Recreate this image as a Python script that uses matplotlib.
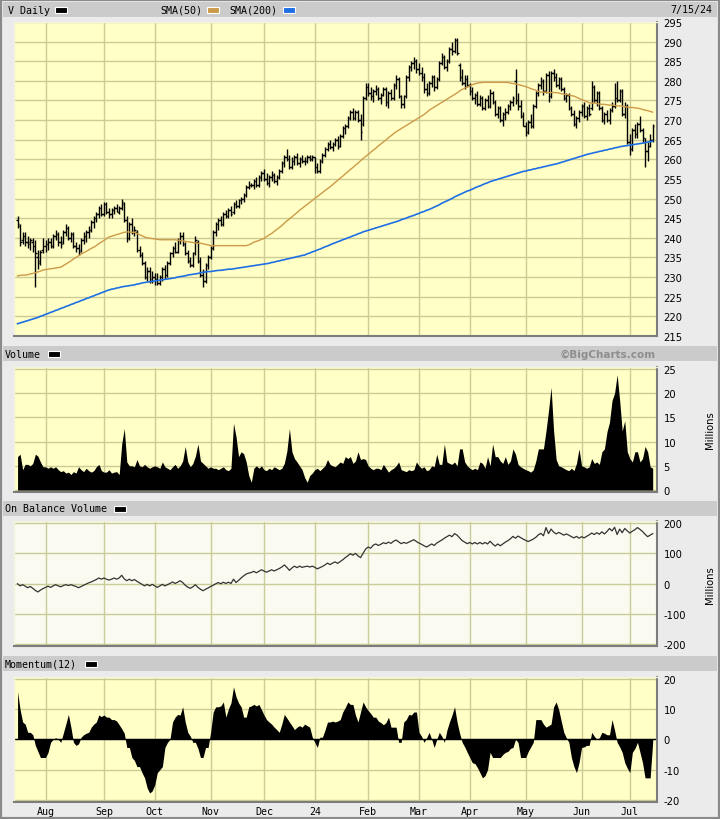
import numpy as np
import pandas as pd
import matplotlib
matplotlib.use('Agg')
import matplotlib.pyplot as plt
from matplotlib.collections import LineCollection
from matplotlib.patches import Rectangle

plt.rcParams['axes.unicode_minus'] = False

# trading calendar 7/17/23 .. 7/15/24
holidays = ['2023-09-04', '2023-11-23', '2023-12-25', '2024-01-01', '2024-01-15',
            '2024-02-19', '2024-03-29', '2024-05-27', '2024-06-19', '2024-07-04']
dates = pd.bdate_range('2023-07-17', '2024-07-15', freq='C', holidays=holidays)

# daily OHLC, one row per month
opens = [
    244.5, 243.0, 239.5, 240.5, 239.0, 239.0, 239.0, 238.0, 235.0, 234.0, 237.0,
    238.0, 238.5, 239.0, 238.0, 240.5, 241.0, 239.0, 239.0, 241.5, 242.5, 240.0, 241.0, 238.0, 237.5, 237.0, 239.5, 240.5, 241.5, 242.0, 244.0, 245.0, 246.0, 247.5,
    246.0, 248.5, 246.5, 246.0, 247.0, 247.5, 246.5, 247.5, 248.5, 244.5, 240.0, 243.5, 241.5, 241.5, 237.0, 235.5, 233.5, 230.0, 231.5, 229.5,
    230.0, 229.5, 228.5, 230.0, 232.0, 230.5, 233.5, 236.0, 237.5, 236.5, 239.5, 240.5, 238.5, 236.0, 234.0, 233.0, 236.0, 239.0, 234.0, 230.5, 229.0, 233.0,
    235.0, 237.5, 241.5, 243.5, 244.5, 243.5, 246.0, 245.5, 247.0, 246.5, 248.5, 248.0, 249.5, 250.0, 251.0, 253.0, 253.5, 253.5, 254.5, 253.5, 255.5,
    256.5, 255.0, 254.0, 255.5, 256.0, 254.5, 255.5, 257.0, 259.0, 260.5, 260.0, 258.0, 259.5, 260.5, 259.0, 260.0, 259.5, 259.5, 260.5, 260.0,
    260.5, 258.0, 257.0, 259.5, 261.0, 262.5, 264.0, 263.0, 264.0, 265.0, 263.5, 266.0, 268.0, 268.5, 270.5, 272.0, 270.5, 272.0, 270.0, 269.0, 275.5,
    278.5, 277.0, 276.0, 277.5, 278.0, 275.5, 276.5, 278.0, 274.5, 277.0, 275.5, 279.0, 280.5, 276.0, 274.0, 276.0, 281.0, 283.5, 284.5, 285.0,
    283.0, 282.0, 281.0, 278.0, 277.0, 279.5, 281.0, 278.5, 280.5, 284.5, 286.0, 283.5, 285.0, 288.0, 287.5, 290.5, 284.0, 281.0, 279.5, 280.5,
    279.0, 277.5, 275.5, 276.5, 274.0, 275.5, 273.0, 275.0, 273.5, 277.0, 274.5, 271.5, 273.0, 270.0, 271.5, 272.0, 273.5, 274.5, 280.0, 275.0, 273.5, 271.0,
    268.5, 267.0, 269.5, 268.5, 273.5, 277.0, 279.0, 280.0, 277.5, 281.5, 276.0, 282.0, 281.0, 279.0, 280.5, 278.0, 275.5, 276.5, 273.0, 271.5, 269.0, 270.5,
    272.0, 273.5, 271.0, 273.0, 273.0, 278.5, 275.0, 277.0, 273.0, 270.0, 271.5, 270.0, 272.5, 273.5, 275.5, 275.0, 277.5, 271.5, 273.5,
    264.5, 262.5, 267.5, 266.5, 269.0, 267.5, 265.5, 262.0, 263.5, 265.0,
]
highs = [
    245.5, 243.5, 241.5, 241.5, 240.5, 240.0, 240.0, 239.5, 237.0, 237.0, 240.0,
    239.5, 240.0, 240.0, 241.0, 242.0, 241.5, 240.5, 242.0, 243.5, 243.0, 241.5, 241.5, 239.0, 238.5, 240.0, 241.5, 242.0, 243.0, 244.5, 245.5, 246.5, 248.0, 248.5,
    249.0, 249.0, 247.5, 247.5, 248.0, 248.5, 248.0, 250.0, 249.0, 245.5, 244.0, 245.0, 243.0, 242.0, 238.0, 236.5, 234.0, 232.5, 232.5, 231.5,
    231.0, 231.0, 230.5, 232.5, 233.0, 234.0, 236.5, 238.0, 239.0, 240.0, 241.5, 241.5, 239.0, 237.0, 235.0, 236.5, 240.5, 239.5, 235.0, 232.0, 233.5, 235.5,
    238.0, 242.0, 244.0, 245.0, 245.5, 246.5, 247.0, 247.5, 248.0, 249.0, 249.5, 250.0, 250.5, 251.5, 253.5, 254.5, 254.0, 255.0, 255.5, 256.0, 257.0,
    257.5, 256.5, 256.0, 257.0, 256.5, 256.0, 257.5, 259.5, 261.0, 262.5, 261.0, 260.5, 261.0, 261.5, 260.5, 261.0, 260.5, 261.0, 261.0, 261.0,
    260.5, 259.0, 260.0, 261.5, 263.0, 264.5, 265.0, 264.5, 265.5, 266.0, 266.5, 268.5, 269.0, 271.0, 272.5, 273.0, 272.5, 272.5, 271.5, 276.0, 279.5,
    279.5, 278.5, 278.0, 279.0, 278.5, 277.0, 278.5, 278.5, 277.5, 278.0, 279.5, 281.5, 281.0, 276.5, 276.5, 281.5, 284.0, 285.0, 286.0, 285.5,
    284.5, 283.5, 282.0, 279.5, 280.0, 281.5, 281.5, 281.0, 285.0, 287.0, 286.5, 285.5, 288.5, 290.0, 291.0, 291.0, 284.5, 283.0, 281.5, 281.5,
    279.5, 278.5, 277.0, 277.5, 276.5, 276.0, 275.5, 276.5, 278.0, 277.5, 275.0, 273.5, 273.5, 272.0, 273.0, 274.0, 275.0, 276.0, 283.0, 277.0, 275.0, 272.0,
    269.5, 270.0, 271.5, 274.0, 277.5, 279.5, 281.0, 280.5, 282.0, 282.5, 282.5, 283.0, 282.0, 281.0, 281.0, 278.5, 277.0, 277.0, 273.5, 272.5, 271.0, 272.5,
    274.0, 274.5, 273.5, 274.0, 280.0, 279.0, 277.5, 277.5, 273.5, 272.0, 272.5, 273.0, 274.5, 279.5, 280.0, 278.0, 278.0, 274.5, 274.0,
    266.5, 268.0, 269.0, 269.5, 271.0, 268.0, 265.5, 264.5, 266.5, 269.0,
]
lows = [
    242.5, 238.0, 238.5, 238.0, 237.5, 237.0, 236.5, 227.5, 232.0, 233.0, 236.0,
    236.5, 237.0, 237.5, 237.5, 239.5, 238.0, 237.5, 238.5, 240.5, 239.5, 239.0, 237.5, 236.5, 235.5, 236.5, 238.5, 239.0, 240.0, 241.5, 242.5, 244.0, 245.0, 245.5,
    245.5, 246.0, 245.0, 245.0, 246.0, 246.5, 246.0, 247.0, 244.0, 239.0, 239.5, 241.0, 240.5, 236.5, 235.0, 233.0, 229.5, 229.0, 228.5, 228.5,
    228.0, 228.0, 228.0, 229.0, 229.5, 230.0, 233.0, 235.0, 236.0, 236.0, 238.5, 238.0, 235.5, 233.5, 232.5, 232.5, 235.5, 233.5, 230.0, 227.5, 228.5, 232.0,
    234.5, 237.0, 240.5, 242.0, 243.0, 243.0, 245.0, 245.0, 245.5, 246.0, 247.5, 247.5, 248.5, 249.0, 250.5, 252.5, 253.0, 252.5, 253.0, 253.0, 254.5,
    254.5, 253.5, 253.0, 254.5, 254.0, 253.5, 255.0, 256.5, 258.0, 259.5, 257.5, 257.5, 258.5, 258.5, 258.0, 259.0, 258.5, 259.0, 259.5, 259.5,
    256.5, 256.5, 256.5, 259.0, 260.5, 262.0, 262.5, 262.0, 263.5, 262.5, 263.0, 265.5, 266.5, 268.0, 270.0, 270.0, 270.0, 269.5, 265.0, 268.5, 275.0,
    276.0, 275.0, 274.5, 276.5, 275.0, 274.0, 276.0, 273.5, 273.0, 275.0, 275.0, 278.0, 275.5, 273.0, 273.0, 275.5, 280.0, 282.5, 283.0, 282.0,
    281.5, 280.0, 277.0, 276.0, 276.5, 278.5, 277.5, 278.0, 280.0, 284.0, 283.0, 282.5, 284.5, 286.5, 287.0, 286.5, 280.0, 279.0, 278.0, 278.5,
    276.5, 275.0, 274.0, 273.5, 273.5, 272.5, 272.5, 273.0, 273.0, 274.0, 271.0, 270.5, 269.5, 268.5, 270.0, 271.5, 272.5, 273.5, 274.0, 272.5, 270.5, 268.5,
    266.0, 266.5, 268.0, 268.0, 273.0, 276.0, 278.0, 276.5, 277.0, 274.5, 275.5, 280.0, 278.5, 278.0, 277.5, 275.0, 274.5, 272.5, 271.0, 268.5, 268.0, 269.5,
    271.0, 270.5, 270.0, 271.0, 272.5, 274.5, 273.5, 272.5, 269.5, 269.0, 269.5, 269.0, 272.0, 273.0, 274.5, 274.5, 271.0, 270.5, 264.0,
    261.0, 262.0, 265.5, 265.5, 267.0, 264.5, 258.0, 259.5, 263.0, 264.5,
]
closes = [
    243.5, 239.0, 240.5, 239.0, 238.5, 239.5, 238.0, 236.0, 233.5, 236.5, 238.0,
    238.5, 239.0, 238.0, 240.5, 241.0, 239.0, 238.5, 241.5, 242.5, 240.0, 241.0, 238.0, 237.5, 236.5, 239.5, 240.5, 241.5, 242.0, 244.0, 245.0, 246.0, 247.5, 246.0,
    248.5, 246.5, 246.0, 247.0, 247.5, 246.5, 247.5, 249.0, 244.5, 240.0, 243.5, 241.5, 242.0, 237.0, 235.5, 233.5, 230.0, 231.5, 229.0, 230.0,
    229.5, 228.5, 230.0, 232.0, 230.5, 233.5, 236.0, 237.5, 236.5, 239.5, 240.5, 238.5, 236.0, 234.0, 233.0, 236.0, 239.5, 234.0, 230.5, 229.0, 233.0, 235.0,
    237.5, 241.5, 243.5, 244.5, 243.5, 246.0, 245.5, 247.0, 246.0, 248.5, 248.0, 249.5, 250.0, 251.0, 253.0, 253.5, 253.5, 254.5, 253.5, 255.5, 256.5,
    255.0, 254.0, 255.5, 256.0, 254.5, 255.5, 257.0, 259.0, 260.5, 260.0, 258.0, 259.5, 260.5, 259.0, 260.0, 259.5, 259.5, 260.5, 260.0, 260.5,
    258.0, 257.0, 259.5, 261.0, 262.5, 264.0, 263.0, 264.0, 265.0, 263.5, 266.0, 268.0, 268.5, 270.5, 272.0, 270.5, 272.0, 270.0, 267.0, 275.5, 278.5,
    277.0, 276.0, 277.5, 278.0, 275.5, 276.5, 278.0, 274.5, 277.0, 275.5, 279.0, 280.5, 276.0, 274.0, 276.0, 281.0, 283.5, 284.5, 285.0, 283.0,
    282.0, 281.0, 278.0, 277.0, 279.5, 281.0, 278.5, 280.5, 284.5, 286.0, 283.5, 285.0, 288.0, 287.5, 290.5, 287.0, 281.0, 279.5, 280.5, 279.0,
    277.5, 275.5, 276.5, 274.0, 275.5, 273.0, 275.0, 273.5, 277.0, 274.5, 271.5, 273.0, 270.0, 271.5, 272.0, 273.5, 274.5, 275.5, 275.0, 273.5, 271.0, 268.5,
    267.0, 269.5, 268.5, 273.5, 277.0, 279.0, 280.0, 277.5, 281.5, 276.0, 282.0, 281.0, 279.0, 280.5, 278.0, 275.5, 276.5, 273.0, 271.5, 269.0, 270.5, 272.0,
    273.5, 271.0, 273.0, 271.5, 278.5, 275.0, 277.0, 273.0, 270.0, 271.5, 270.0, 272.5, 273.5, 275.5, 275.0, 277.5, 271.5, 273.5, 264.5,
    262.5, 267.5, 266.5, 269.0, 267.5, 265.5, 262.0, 263.5, 265.0, 268.5,
]

sma50 = [
    230.3, 230.4, 230.5, 230.5, 230.6, 230.8, 230.9, 231.1, 231.3, 231.5, 231.8,
    231.9, 232.0, 232.1, 232.2, 232.3, 232.4, 232.5, 232.9, 233.3, 233.7, 234.1, 234.6, 235.0,
    235.4, 235.8, 236.2, 236.5, 236.9, 237.3, 237.6, 238.0, 238.5, 238.9, 239.3, 239.8, 240.2,
    240.4, 240.6, 240.8, 241.0, 241.2, 241.4, 241.5, 241.5, 241.4, 241.4, 241.1, 240.8, 240.5, 240.2,
    240.0, 239.9, 239.8, 239.7, 239.6, 239.5, 239.5, 239.5, 239.5, 239.5, 239.5, 239.5,
    239.4, 239.3, 239.2, 239.1, 239.0, 238.9, 238.8, 238.7, 238.6, 238.6, 238.5, 238.3, 238.2, 238.0,
    238.0, 238.0, 238.0, 238.0, 238.0, 238.0, 238.0, 238.0, 238.0, 238.0, 238.0, 238.0, 238.0, 238.0,
    238.2, 238.5, 238.9, 239.1, 239.3, 239.6, 239.8,
    240.3, 240.7, 241.1, 241.6, 242.1, 242.6, 243.1, 243.7, 244.3,
    244.8, 245.3, 245.9, 246.4, 247.0, 247.5, 248.0, 248.5, 249.0, 249.5, 250.0, 250.5, 251.0,
    251.5, 252.0, 252.5, 253.0, 253.5, 254.1, 254.6,
    255.2, 255.7, 256.3, 256.8, 257.4, 257.9, 258.5, 259.0, 259.6, 260.2,
    260.7, 261.2, 261.8, 262.3, 262.8, 263.4, 263.9, 264.4, 264.9, 265.5, 266.0, 266.5, 267.0,
    267.4, 267.8, 268.2, 268.6, 269.0, 269.4, 269.8, 270.2, 270.6, 271.0, 271.4, 271.9, 272.5,
    272.9, 273.3, 273.7, 274.1, 274.5, 274.9, 275.3, 275.7, 276.1, 276.5, 276.9, 277.4, 277.8,
    278.1, 278.4, 278.7, 279.0, 279.2, 279.4,
    279.5, 279.6, 279.6, 279.6, 279.6, 279.6, 279.6, 279.6, 279.6, 279.6, 279.6, 279.6,
    279.4, 279.3, 279.2, 279.0, 278.9, 278.7,
    278.5, 278.3, 278.0, 277.8, 277.6, 277.3, 277.1, 277.1, 277.1, 277.0, 277.0, 277.0, 277.0,
    276.9, 276.7, 276.6, 276.5, 276.4, 276.2, 276.1, 275.8, 275.5, 275.2, 275.0, 274.7, 274.4,
    274.3, 274.3, 274.2, 274.1, 274.0, 274.0, 273.9, 273.8, 273.8, 273.7, 273.6, 273.6, 273.5,
    273.4, 273.3, 273.2, 273.2, 273.1, 273.0, 272.9, 272.7, 272.5, 272.4, 272.2, 272.0,
]
sma200 = [
    218.1, 218.3, 218.5, 218.7, 218.9, 219.1, 219.3, 219.5, 219.7, 220.0, 220.2,
    220.5, 220.7, 221.0, 221.2, 221.5, 221.7, 222.0, 222.2, 222.5, 222.7, 223.0, 223.2, 223.5,
    223.7, 224.0, 224.2, 224.5, 224.7, 225.0, 225.2, 225.5, 225.7, 226.0, 226.2, 226.5, 226.7,
    226.9, 227.0, 227.2, 227.3, 227.5, 227.6, 227.7, 227.8, 227.9, 228.0, 228.2, 228.3, 228.5, 228.6,
    228.7, 228.8, 228.9, 229.0, 229.1, 229.2, 229.3, 229.4, 229.5, 229.6,
    229.7, 229.8, 230.0, 230.1, 230.2, 230.3, 230.5, 230.6, 230.7, 230.8, 230.9, 231.1, 231.2,
    231.3, 231.4, 231.4, 231.5, 231.6, 231.7, 231.7, 231.8, 231.9, 232.0, 232.0, 232.1, 232.2,
    232.3, 232.4, 232.5, 232.6, 232.7, 232.8, 232.9, 233.0, 233.1, 233.2, 233.3, 233.4, 233.5,
    233.7, 233.8, 234.0, 234.1, 234.3, 234.4, 234.6, 234.7, 234.9, 235.0, 235.2, 235.3, 235.5, 235.6,
    235.9, 236.1, 236.4, 236.6, 236.9, 237.1, 237.4, 237.7, 237.9, 238.2,
    238.5, 238.7, 239.0, 239.2, 239.5, 239.7, 240.0, 240.2, 240.5, 240.7, 241.0, 241.2, 241.5,
    241.7, 241.9, 242.1, 242.3, 242.5, 242.7, 242.9, 243.1, 243.3, 243.5, 243.7, 243.9, 244.1,
    244.3, 244.6, 244.8, 245.0, 245.3, 245.5, 245.7, 246.0, 246.2, 246.5, 246.7, 247.0, 247.2,
    247.5, 247.8, 248.1, 248.4, 248.8, 249.1, 249.4, 249.7, 250.0, 250.4, 250.7, 251.0, 251.3,
    251.6, 251.9, 252.1, 252.4, 252.7, 253.0, 253.2, 253.5, 253.8, 254.0, 254.3, 254.5, 254.7,
    254.9, 255.1, 255.3, 255.5, 255.7, 255.9, 256.1, 256.3, 256.5, 256.7, 256.9,
    257.0, 257.2, 257.3, 257.5, 257.6, 257.8, 257.9, 258.1, 258.2, 258.4, 258.5, 258.7, 258.8,
    259.0, 259.2, 259.4, 259.6, 259.8, 260.0, 260.2, 260.4, 260.6, 260.8, 261.0, 261.2, 261.4,
    261.5, 261.7, 261.8, 262.0, 262.1, 262.3, 262.4, 262.6, 262.7, 262.9, 263.0, 263.2, 263.3,
    263.4, 263.5, 263.6, 263.7, 263.8, 263.9, 264.0, 264.1, 264.2, 264.4, 264.5, 264.6,
]

# volume, millions of shares
volume = [
    6.9, 7.4, 4.2, 5.3, 5.3, 5.0, 5.5, 7.4, 7.0, 5.8, 4.8,
    4.8, 4.5, 4.8, 4.5, 4.8, 4.2, 3.8, 4.0, 3.5, 3.7, 3.2, 3.8, 3.5, 4.8, 4.2, 3.8, 4.5, 4.0, 3.7, 4.0, 4.8, 5.3, 4.0,
    3.7, 3.7, 4.2, 3.5, 3.7, 3.8, 3.2, 9.5, 12.7, 5.8, 5.0, 5.0, 4.8, 6.3, 5.0, 4.8, 5.3, 4.8, 4.5, 4.8,
    5.0, 4.8, 4.5, 5.8, 4.8, 4.5, 4.2, 4.8, 5.3, 4.5, 5.0, 6.0, 9.0, 5.8, 4.8, 5.5, 7.0, 9.5, 6.0, 5.5, 5.0, 4.5,
    4.8, 4.5, 4.5, 4.2, 4.5, 4.8, 4.2, 4.0, 4.5, 13.8, 11.0, 6.9, 7.9, 7.5, 5.8, 3.0, 1.6, 4.5, 5.0, 4.5, 5.0,
    4.2, 4.0, 4.5, 4.2, 4.8, 4.5, 4.2, 4.5, 5.5, 8.0, 12.7, 7.9, 6.5, 5.8, 5.0, 4.2, 2.6, 1.6, 3.0, 3.5,
    4.2, 4.5, 4.0, 4.5, 5.0, 6.3, 5.3, 5.0, 4.8, 5.3, 5.8, 5.5, 6.9, 6.5, 6.9, 5.5, 6.0, 7.9, 6.3, 6.5, 6.3,
    5.0, 4.5, 4.2, 4.5, 4.5, 4.2, 5.3, 4.5, 3.7, 4.2, 4.5, 5.0, 5.8, 4.2, 4.0, 3.8, 4.2, 4.0, 4.2, 5.8,
    5.0, 4.5, 4.8, 4.0, 4.2, 5.0, 4.8, 7.4, 5.3, 5.3, 9.5, 5.8, 5.5, 5.3, 5.8, 5.0, 8.5, 8.5, 5.8, 5.0,
    4.5, 4.2, 4.5, 4.2, 5.8, 5.5, 4.5, 6.9, 5.0, 9.5, 6.9, 6.9, 6.0, 5.5, 6.9, 5.3, 6.0, 8.5, 7.4, 5.3, 4.8, 4.5,
    4.2, 4.0, 3.7, 4.2, 6.0, 8.5, 8.5, 8.5, 12.2, 16.4, 21.2, 12.2, 6.3, 5.0, 4.8, 4.5, 4.2, 4.0, 4.5, 4.0, 5.5, 8.5,
    5.0, 4.8, 4.5, 4.8, 6.5, 5.5, 5.8, 5.3, 7.9, 8.5, 12.0, 14.0, 18.5, 20.0, 23.8, 18.5, 12.2, 14.3, 7.9,
    6.5, 5.8, 7.9, 7.9, 5.8, 6.5, 9.0, 7.9, 4.8, 4.5,
]

# on balance volume, millions
obv = [
    0, -7, -3, -8, -13, -9, -15, -22, -27, -21, -16,
    -12, -8, -12, -7, -3, -7, -10, -6, -3, -6, -3, -6, -9, -13, -9, -5, -1, 3, 6, 10, 14, 19, 15,
    19, 15, 12, 15, 19, 15, 19, 28, 16, 10, 15, 10, 14, 8, 3, -2, -7, -2, -7, -2,
    -7, -12, -7, -2, -7, -3, 1, 6, 1, 5, 10, 4, -5, -11, -15, -10, -3, -12, -18, -23, -18, -14,
    -9, -5, 0, 4, 0, 5, 1, 5, 1, 15, 4, 11, 19, 26, 32, 35, 37, 41, 36, 41, 46,
    42, 38, 42, 46, 42, 46, 50, 55, 62, 54, 44, 52, 58, 53, 58, 54, 56, 58, 55, 58,
    54, 49, 53, 57, 62, 68, 63, 68, 72, 67, 73, 79, 86, 92, 99, 94, 100, 92, 86, 100, 114,
    121, 117, 127, 131, 126, 130, 135, 132, 137, 133, 140, 144, 138, 132, 136, 133, 137, 141, 145, 139,
    134, 130, 125, 121, 126, 131, 126, 134, 139, 144, 150, 155, 160, 155, 165, 160, 151, 142, 137, 132,
    136, 131, 136, 131, 136, 131, 136, 131, 140, 131, 124, 131, 125, 131, 137, 142, 148, 156, 150, 157, 152, 147,
    143, 139, 143, 147, 153, 161, 166, 158, 185, 165, 180, 170, 164, 169, 165, 160, 164, 160, 155, 151, 156, 150,
    155, 151, 156, 161, 167, 162, 168, 163, 171, 164, 172, 182, 174, 186, 162, 180, 168, 182, 174,
    167, 173, 178, 185, 179, 172, 163, 155, 160, 165,
]

# momentum (12)
momentum = [
    15.7, 9.8, 5.7, 5.0, 2.3, 2.3, 1.5, -2.0, -4.0, -6.0, -6.0,
    -6.0, -4.3, -1.0, 0.0, 0.5, 0.0, -1.0, 2.0, 5.0, 8.2, 4.0, -1.0, -2.0, -1.5, 0.7, 1.5, 2.0, 2.3, 4.0, 5.0, 5.7, 8.0, 7.5,
    8.0, 7.3, 7.3, 6.5, 6.5, 6.0, 4.8, 3.5, 2.0, -2.7, -2.7, -6.0, -7.0, -9.0, -9.0, -11.0, -12.7, -16.0, -17.7, -17.0,
    -15.0, -11.0, -10.0, -9.0, -2.7, -1.0, 0.0, 5.7, 7.3, 8.2, 8.0, 10.7, 5.7, 2.3, 1.0, -1.0, -1.0, -3.0, -6.0, -6.0, -2.7, -2.7,
    2.3, 9.0, 10.7, 10.7, 11.0, 12.3, 7.3, 10.0, 12.0, 17.3, 14.0, 12.0, 10.7, 7.3, 7.3, 10.7, 11.0, 11.5, 11.0, 11.5, 9.8,
    8.0, 6.5, 5.7, 5.0, 4.0, 3.2, 2.3, 5.0, 8.2, 7.0, 5.7, 4.5, 3.2, 4.0, 4.5, 4.0, 5.0, 4.5, 4.0, 0.7,
    -1.0, -2.7, 0.7, 0.7, 3.0, 5.7, 5.7, 6.0, 5.7, 6.0, 6.5, 9.0, 10.5, 12.3, 11.5, 11.5, 8.0, 5.7, 9.0, 12.3, 10.7,
    9.5, 8.5, 7.3, 7.3, 6.0, 5.5, 4.8, 5.5, 7.3, 4.0, 4.0, 4.0, -1.0, -1.0, 5.7, 6.5, 8.2, 8.0, 9.0, 9.0,
    2.3, 1.0, -1.0, 0.5, 2.3, 0.0, -2.7, 0.0, 2.3, 1.0, -1.0, 3.0, 5.7, 8.0, 10.7, 5.7, 2.0, -1.0, -2.5, -4.3,
    -6.0, -7.7, -8.0, -9.3, -11.0, -12.7, -12.0, -10.0, -4.3, -6.0, -6.0, -6.0, -6.0, -5.0, -4.3, -4.0, -3.0, -2.7, 0.0, -1.0, -6.0, -6.0,
    -6.0, -4.0, -2.5, -1.0, 6.5, 6.5, 6.5, 5.0, 4.0, 4.5, 5.0, 10.7, 12.3, 9.8, 6.0, 2.3, 0.5, -1.0, -6.0, -9.0, -11.0, -7.7,
    -2.7, -2.5, -2.0, -2.0, 2.3, 1.0, 0.0, 0.5, 2.3, 2.0, 1.5, 1.5, 6.5, 3.0, -1.0, -2.5, -4.3, -7.7, -9.5,
    -11.0, -4.3, -3.0, -1.0, -4.3, -7.7, -12.7, -12.7, -12.7, -1.0,
]

n = len(dates)
for series in (opens, highs, lows, closes, sma50, sma200, volume, obv, momentum):
    assert len(series) == n, (len(series), n)

idx = np.arange(n)
month_pos = [i for i in range(1, n) if dates[i].month != dates[i - 1].month]
month_lbl = ['24' if dates[i].month == 1 else dates[i].strftime('%b') for i in month_pos]

W, H = 720, 820
BG = '#ebebeb'
BAR = '#cbcbcb'
PANEL = '#ffffc6'
GRID = '#cbcb96'

fig = plt.figure(figsize=(W / 100, H / 100), dpi=100, facecolor=BG)


def px_rect(x0, y0, x1, y1):
    return [x0 / W, 1 - y1 / H, (x1 - x0) / W, (y1 - y0) / H]


def header_bar(y0, y1):
    fig.patches.append(Rectangle((3 / W, 1 - y1 / H), 714 / W, (y1 - y0) / H,
                                 transform=fig.transFigure, facecolor=BAR, edgecolor='none'))


def swatch(x, yc, color):
    fig.patches.append(Rectangle((x / W, 1 - (yc + 3) / H), 12 / W, 6 / H,
                                 transform=fig.transFigure, facecolor=color,
                                 edgecolor='white', lw=0.8))


def htext(x, yc, s, **kw):
    kw.setdefault('fontsize', 7.2)
    kw.setdefault('family', 'DejaVu Sans Mono')
    fig.text(x / W, 1 - yc / H, s, va='center', **kw)


def panel(rect, ylim, yticks, face=PANEL):
    ax = fig.add_axes(px_rect(*rect), facecolor=face)
    ax.set_xlim(-1.4, 251.5)
    ax.set_ylim(*ylim)
    ax.set_axisbelow(True)
    ax.set_xticks(month_pos)
    ax.set_yticks(yticks)
    ax.grid(True, color=GRID, lw=1)
    ax.yaxis.tick_right()
    ax.tick_params(axis='y', length=0, pad=5, labelsize=7.2)
    ax.tick_params(axis='x', length=0, labelbottom=False)
    for s in ('top', 'left'):
        ax.spines[s].set_color('#f4f4dc')
        ax.spines[s].set_linewidth(1)
    for s in ('bottom', 'right'):
        ax.spines[s].set_color('#7c7c7c')
        ax.spines[s].set_linewidth(1.5)
    return ax


# outer frame
fig.patches.append(Rectangle((0, 0), 1, 1, transform=fig.transFigure, facecolor='none',
                             edgecolor='#8a8a8a', lw=3))

# price panel
header_bar(3, 18)
htext(8, 10.5, 'V Daily')
swatch(55, 10.5, 'black')
htext(160, 10.5, 'SMA(50)')
swatch(207, 10.5, '#cc9a48')
htext(229, 10.5, 'SMA(200)')
swatch(283, 10.5, '#1f6fe5')
htext(712, 10.5, '7/15/24', ha='right')

ax1 = panel((14, 22.5, 656.5, 337.3), (214.9, 295.1), np.arange(215, 296, 5))
segs = []
for i in idx:
    segs.append([(i, lows[i]), (i, highs[i])])
    segs.append([(i - 0.6, opens[i]), (i, opens[i])])
    segs.append([(i, closes[i]), (i + 0.6, closes[i])])
ax1.add_collection(LineCollection(segs, colors='black', linewidths=1.0))
ax1.plot(idx, sma50, color='#cc9a48', lw=1.0)
ax1.plot(idx, sma200, color='#1f6fe5', lw=1.2)

# volume panel
header_bar(347, 362)
htext(5, 354.5, 'Volume')
swatch(48, 354.5, 'black')
fig.text(656 / W, 1 - 354.5 / H, '\u00a9BigCharts.com', ha='right', va='center',
         fontsize=7.5, fontweight='bold', color='#8e8e8e')
ax2 = panel((14, 368, 656.5, 492.5), (-0.3, 25.4), [0, 5, 10, 15, 20, 25])
ax2.fill_between(idx, volume, 0, color='black', lw=0)
fig.text(710 / W, 1 - 430 / H, 'Millions', rotation=90, ha='center', va='center', fontsize=7.2)

# on balance volume panel
header_bar(502, 517)
htext(5, 509.5, 'On Balance Volume')
swatch(114, 509.5, 'black')
ax3 = panel((14, 522, 656.5, 646.5), (-203.3, 206.6), [-200, -100, 0, 100, 200], face='#fafaf0')
ax3.plot(idx, obv, color='#333333', lw=0.9)
fig.text(710 / W, 1 - 585 / H, 'Millions', rotation=90, ha='center', va='center', fontsize=7.2)

# momentum panel
header_bar(657, 672)
htext(5, 664.5, 'Momentum(12)')
swatch(85, 664.5, 'black')
ax4 = panel((14, 677.5, 656.5, 802.5), (-20.5, 20.7), [-20, -10, 0, 10, 20])
ax4.fill_between(idx, momentum, 0, color='black', lw=0)
ax4.axhline(0, color='black', lw=1)
ax4.tick_params(axis='x', labelbottom=True, labelsize=7.2, pad=3)
ax4.set_xticklabels(month_lbl, family='DejaVu Sans Mono')

fig.savefig('out.png', dpi=100, facecolor=BG)
